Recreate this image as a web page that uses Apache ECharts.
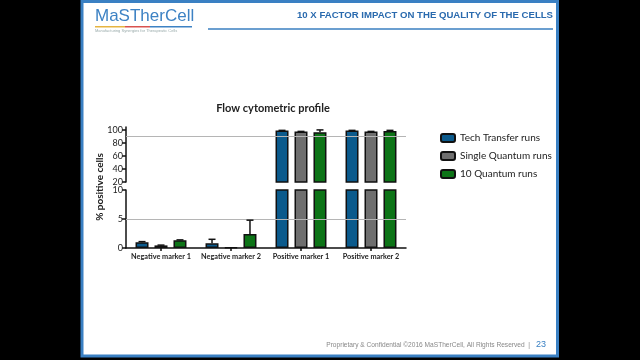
<!DOCTYPE html>
<html>
<head>
<meta charset="utf-8">
<script src="https://cdn.jsdelivr.net/npm/echarts@6/dist/echarts.min.js"></script>
<style>html,body{margin:0;padding:0;background:#000;}#c{width:640px;height:360px;}</style>
</head>
<body>
<div id="c"></div>
<script>
const categories = ['Negative marker 1', 'Negative marker 2', 'Positive marker 1', 'Positive marker 2'];
const seriesNames = ['Tech Transfer runs', 'Single Quantum runs', '10 Quantum runs'];
const techTransfer = [1.0, 0.8, 99.5, 99.5];
const techTransferErr = [0.1, 0.7, 0.3, 0.3];
const singleQuantum = [0.45, 0.1, 98, 98];
const singleQuantumErr = [0.05, 0, 0.2, 0.2];
const tenQuantum = [1.35, 2.4, 97, 99];
const tenQuantumErr = [0.05, 2.4, 3.5, 0.8];
const upperTicks = [20, 40, 60, 80, 100];
const lowerTicks = [0, 5, 10];

const values = [techTransfer, singleQuantum, tenQuantum];
const errs = [techTransferErr, singleQuantumErr, tenQuantumErr];
const colors = ['#0b5a8c', '#6f6f6f', '#0d7417'];
const BAR_W = 13, GAP = 0.46;
const FONT = 'Lato, "Open Sans", sans-serif';

const chart = echarts.init(document.getElementById('c'), null, {renderer: 'canvas'});

const series = [];
series.push({type: 'line', xAxisIndex: 0, yAxisIndex: 0, data: categories.map(() => '-'), z: 1,
  markLine: {silent: true, symbol: 'none', label: {show: false}, lineStyle: {color: '#b5b5b5', type: 'solid', width: 1}, data: [{yAxis: 90}]}});
series.push({type: 'line', xAxisIndex: 1, yAxisIndex: 1, data: categories.map(() => '-'), z: 1,
  markLine: {silent: true, symbol: 'none', label: {show: false}, lineStyle: {color: '#b5b5b5', type: 'solid', width: 1}, data: [{yAxis: 5}]}});

values.forEach((vals, i) => {
  const common = {type: 'bar', name: seriesNames[i], barWidth: BAR_W, barGap: (GAP * 100) + '%', clip: true,
    itemStyle: {color: colors[i], borderColor: '#111', borderWidth: 1.5}};
  series.push(Object.assign({}, common, {xAxisIndex: 0, yAxisIndex: 0, data: vals.map(v => v >= 20 ? v : '-')}));
  series.push(Object.assign({}, common, {xAxisIndex: 1, yAxisIndex: 1, data: vals.slice()}));
});

function errSeries(i, axis) {
  const offset = (i - 1) * BAR_W * (1 + GAP);
  const data = [];
  values[i].forEach((v, k) => {
    const e = errs[i][k];
    if (e <= 0) return;
    if (axis === 0 && v < 20) return;
    if (axis === 1 && v > 10) return;
    data.push([k, v, e]);
  });
  return {type: 'custom', xAxisIndex: axis, yAxisIndex: axis, z: 5, clip: true, silent: true,
    encode: {x: 0, y: 1}, data: data,
    renderItem: function (params, api) {
      const k = api.value(0), v = api.value(1), e = api.value(2);
      const top = api.coord([k, v + e]);
      const bot = api.coord([k, v]);
      const x = top[0] + offset;
      const st = {stroke: '#111', lineWidth: 1.5};
      return {type: 'group', children: [
        {type: 'line', shape: {x1: x, y1: bot[1], x2: x, y2: top[1]}, style: st},
        {type: 'line', shape: {x1: x - 3.5, y1: top[1], x2: x + 3.5, y2: top[1]}, style: st}
      ]};
    }};
}
for (let i = 0; i < 3; i++) { series.push(errSeries(i, 0)); series.push(errSeries(i, 1)); }

const axisLineStyle = {show: true, lineStyle: {color: '#111', width: 1.5}};

const option = {
  backgroundColor: '#000',
  animation: false,
  title: {text: 'Flow cytometric profile', left: 268, top: 98, textAlign: 'center',
    textStyle: {fontFamily: FONT, fontWeight: 'bold', fontSize: 11, color: '#222'}},
  legend: {orient: 'vertical', left: 435, top: 128, itemWidth: 14, itemHeight: 8, itemGap: 8,
    icon: 'roundRect', data: seriesNames,
    textStyle: {fontFamily: FONT, fontSize: 10, color: '#222', padding: [0, 0, 0, 0]}},
  grid: [
    {left: 126, width: 280, top: 127, height: 55, containLabel: false},
    {left: 126, width: 280, top: 190, height: 58, containLabel: false}
  ],
  xAxis: [
    {type: 'category', gridIndex: 0, data: categories, show: false},
    {type: 'category', gridIndex: 1, data: categories, axisLine: axisLineStyle,
      axisTick: {show: true, alignWithLabel: true, length: 3, lineStyle: {color: '#111', width: 1.5}},
      axisLabel: {fontFamily: FONT, fontWeight: 'bold', fontSize: 7.3, color: '#222', margin: 5, interval: 0}}
  ],
  yAxis: [
    {type: 'value', gridIndex: 0, min: 20, max: 105, interval: 20, axisLine: axisLineStyle,
      axisTick: {show: true, length: 4, customValues: upperTicks, lineStyle: {color: '#111', width: 1.5}},
      axisLabel: {customValues: upperTicks, fontFamily: FONT, fontSize: 9, color: '#222', margin: 3},
      splitLine: {show: false}},
    {type: 'value', gridIndex: 1, min: 0, max: 10, interval: 5, axisLine: axisLineStyle,
      axisTick: {show: true, length: 4, customValues: lowerTicks, lineStyle: {color: '#111', width: 1.5}},
      axisLabel: {customValues: lowerTicks, fontFamily: FONT, fontSize: 9, color: '#222', margin: 3},
      splitLine: {show: false}}
  ],
  graphic: [
    {type: 'rect', z: -10, silent: true, shape: {x: 82, y: 1.5, width: 475.5, height: 354.5},
      style: {fill: '#fff', stroke: '#3a80c3', lineWidth: 3}},
    {type: 'text', z: 10, x: 95, y: 8, style: {text: 'MaSTherCell', fill: '#3d82c4', font: '17px Arial, "Liberation Sans", sans-serif'}},
    {type: 'rect', z: 10, shape: {x: 95, y: 26, width: 30, height: 1.5}, style: {fill: '#e6b441'}},
    {type: 'rect', z: 10, shape: {x: 125, y: 26, width: 25, height: 1.5}, style: {fill: '#d9534f'}},
    {type: 'rect', z: 10, shape: {x: 150, y: 26, width: 42, height: 1.5}, style: {fill: '#3d82c4'}},
    {type: 'text', z: 10, x: 95, y: 29, style: {text: 'Manufacturing Synergies for Therapeutic Cells', fill: '#9aa', font: '4px Arial, sans-serif'}},
    {type: 'text', z: 10, x: 553, y: 10, style: {text: '10 X FACTOR IMPACT ON THE QUALITY OF THE CELLS', fill: '#2a6aae', font: 'bold 9.6px Arial, "Liberation Sans", sans-serif', textAlign: 'right'}},
    {type: 'line', z: 10, shape: {x1: 208, y1: 29, x2: 553, y2: 29}, style: {stroke: '#3a7fc0', lineWidth: 1.5}},
    {type: 'text', z: 10, x: 100, y: 187, rotation: Math.PI / 2,
      style: {text: '% positive cells', fill: '#222', font: 'bold 10px ' + FONT, textAlign: 'center', textVerticalAlign: 'middle'}},
    {type: 'text', z: 10, x: 530, y: 342, style: {text: 'Proprietary & Confidential \u00a92016 MaSTherCell, All Rights Reserved  |', fill: '#888', font: '6.6px Arial, "Liberation Sans", sans-serif', textAlign: 'right'}},
    {type: 'text', z: 10, x: 536, y: 340, style: {text: '23', fill: '#3a80c3', font: '9px Arial, "Liberation Sans", sans-serif'}}
  ],
  series: series
};
chart.setOption(option);
</script>
</body>
</html>
